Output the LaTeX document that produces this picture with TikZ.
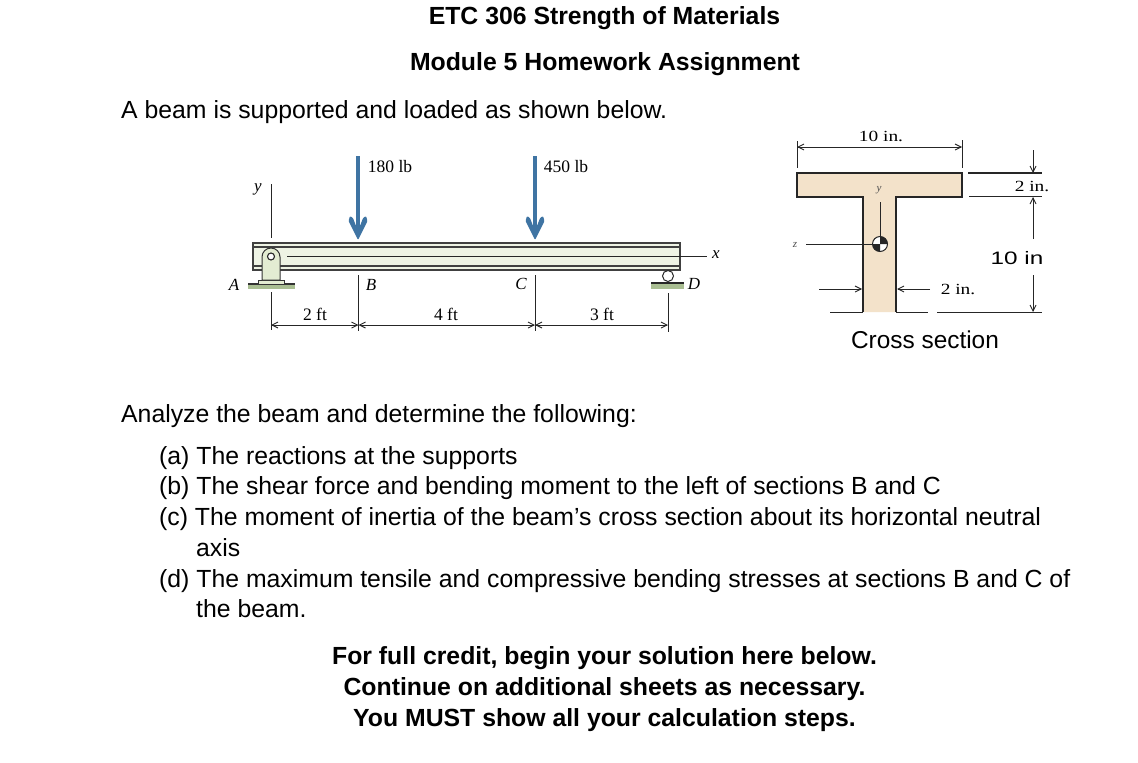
\documentclass[tikz,border=0pt]{standalone}
\usepackage{fontspec}
\setmainfont{Liberation Sans}
\newfontfamily\serifbook{Liberation Serif}
\usetikzlibrary{arrows.meta}
\definecolor{beamfill}{HTML}{EEF3E4}
\definecolor{clevisfill}{HTML}{E3ECD2}
\definecolor{forceblue}{HTML}{3F74A3}
\definecolor{groundgreen}{HTML}{A9BE92}
\definecolor{tee}{HTML}{F3E2CA}
\newcommand{\forcehead}[1]{\fill[forceblue,rounded corners=1pt] (#1) -- ++(-9.5,-19) -- ++(1.5,-5) -- ++(3,2) -- ++(3,8) -- ++(4,0) -- ++(3,-8) -- ++(3,-2) -- ++(1.5,5) -- cycle;}
\tikzset{
  x=1pt,y=-1pt,
  body/.style={inner sep=0pt,anchor=base west,font=\fontsize{24.8}{30}\selectfont},
  boldc/.style={inner sep=0pt,anchor=base,font=\fontsize{24.8}{30}\selectfont\bfseries},
  lbl/.style={inner sep=0pt,anchor=center,font=\serifbook\fontsize{17.5}{18}\selectfont},
  ital/.style={inner sep=0pt,anchor=center,font=\serifbook\itshape\fontsize{17}{18}\selectfont},
  beamline/.style={draw=black!75,line width=1.5pt},
  thinline/.style={draw=black!85,line width=0.9pt},
  dimline/.style={draw=black!85,line width=0.9pt,{Straight Barb[length=6pt,width=6pt]}-{Straight Barb[length=6pt,width=6pt]}},
  onearrow/.style={draw=black!85,line width=0.9pt,-{Straight Barb[length=6pt,width=6pt]}},
  force/.style={draw=forceblue,line width=4pt},
}
\begin{document}
\begin{tikzpicture}
\useasboundingbox (0,0) rectangle (1138,763);
% --- page text
\node[boldc] (t1) at (604.5,24) {ETC 306 Strength of Materials};
\node[boldc] (t2) at (605,70) {Module 5 Homework Assignment};
\node[body] (intro) at (121,118) {A beam is supported and loaded as shown below.};
\node[body] (ana) at (121,422) {Analyze the beam and determine the following:};
\node[body] (qa) at (159,464) {(a) The reactions at the supports};
\node[body] (qb) at (159,494) {(b) The shear force and bending moment to the left of sections B and C};
\node[body] (qc) at (159,525) {(c) The moment of inertia of the beam’s cross section about its horizontal neutral};
\node[body] (qc2) at (196,556) {axis};
\node[body] (qd) at (159,587) {(d) The maximum tensile and compressive bending stresses at sections B and C of};
\node[body] (qd2) at (196,617) {the beam.};
\node[boldc] (f1) at (604.5,664) {For full credit, begin your solution here below.};
\node[boldc] (f2) at (604.5,695) {Continue on additional sheets as necessary.};
\node[boldc] (f3) at (604.5,726) {You MUST show all your calculation steps.};
% --- beam
\node[draw=black!75,line width=1.5pt,fill=beamfill,minimum width=427pt,minimum height=27pt,inner sep=0pt,anchor=north west] (beam) at (252,242) {};
\draw[beamline] (252,247) -- (679,247);
\draw[beamline] (252,266) -- (679,266);
\draw[thinline] (287,256) -- (679,256);
% --- pin support at A
\fill[groundgreen] (248,284) rectangle (295,289);
\draw[line width=1.3pt,black!80] (248,284) -- (295,284);
\draw[line width=1pt,black!80,fill=clevisfill] (258,284) -- (258,280) -- (284,280) -- (284,284);
\draw[line width=1pt,black!80,fill=clevisfill] (262,280) -- (262,257) arc[start angle=180,end angle=360,radius=9] -- (280,280) -- cycle;
\node[circle,draw=black!85,line width=1.1pt,fill=white,minimum size=7pt,inner sep=0pt] (pinA) at (271,256.5) {};
% --- roller support at D
\fill[groundgreen] (651,284) rectangle (684,289);
\node[circle,draw=black!85,line width=1pt,fill=white,minimum size=11pt,inner sep=0pt] (rollD) at (668,276) {};
\draw[line width=1.4pt,black!85] (651,283) -- (684,283);
% --- axes
\coordinate (yaTop) at (271,184);
\coordinate (yaBot) at (271,238);
\draw[thinline] (yaTop) -- (yaBot);
\coordinate (xaEnd) at (707,256);
\draw[thinline] (679,256) -- (xaEnd);
% --- extension lines
\coordinate (extA1) at (271,292); \coordinate (extA2) at (271,330);
\coordinate (extB1) at (358.5,275); \coordinate (extB2) at (358.5,331);
\coordinate (extC1) at (535,275); \coordinate (extC2) at (535,331);
\coordinate (extD1) at (668,293); \coordinate (extD2) at (668,332);
\draw[thinline] (extA1) -- (extA2);
\draw[thinline] (extB1) -- (extB2);
\draw[thinline] (extC1) -- (extC2);
\draw[thinline] (extD1) -- (extD2);
\coordinate (dA) at (271,325); \coordinate (dB) at (358.5,325);
\coordinate (dC) at (535,325); \coordinate (dD) at (668,325);
\draw[dimline] (dA) -- (dB);
\draw[dimline] (dB) -- (dC);
\draw[dimline] (dC) -- (dD);
% --- forces
\coordinate (fB0) at (358,156); \coordinate (fB1) at (358,240); \coordinate (fB2) at (358,228);
\coordinate (fC0) at (535,156); \coordinate (fC1) at (535,240); \coordinate (fC2) at (535,228);
\draw[force] (fB0) -- (fB2);
\draw[force] (fC0) -- (fC2);
\forcehead{fB1}
\forcehead{fC1}
% --- beam labels
\node[lbl] (l180) at (390,167) {180 lb};
\node[lbl] (l450) at (566,167) {450 lb};
\node[lbl] (l2ft) at (315,314) {2 ft};
\node[lbl] (l4ft) at (446,314) {4 ft};
\node[lbl] (l3ft) at (602,314) {3 ft};
\node[ital] (lA) at (234,285) {A};
\node[ital] (lB) at (371,285) {B};
\node[ital] (lC) at (521,284) {C};
\node[ital] (lD) at (694,284) {D};
\node[ital] (ly) at (258,189) {y};
\node[ital] (lx) at (716,255) {x};
% --- T cross section
\fill[tee] (797,173) -- (962,173) -- (962,197) -- (896,197) -- (896,312) -- (863,312) -- (863,197) -- (797,197) -- cycle;
\draw[line width=1.2pt,black!85] (863,312) -- (863,197) -- (797,197) -- (797,173) -- (962,173) -- (962,197) -- (896,197) -- (896,312);
\coordinate (bl1) at (830,312); \coordinate (bl2) at (863,312);
\coordinate (bl2b) at (896,312); \coordinate (bl2c) at (928,312);
\coordinate (bl3) at (937,312); \coordinate (bl4) at (1042,312);
\draw[thinline] (bl1) -- (bl2);
\draw[thinline] (bl2b) -- (bl2c);
\draw[thinline] (bl3) -- (bl4);
% dims of the section
\coordinate (e1a) at (797,141); \coordinate (e1b) at (797,168);
\coordinate (e2a) at (962,140); \coordinate (e2b) at (962,168);
\draw[thinline] (e1a) -- (e1b);
\draw[thinline] (e2a) -- (e2b);
\coordinate (w1) at (797,147); \coordinate (w2) at (962,147);
\draw[dimline] (w1) -- (w2);
\coordinate (r1a) at (968,173); \coordinate (r1b) at (1042,173);
\coordinate (r2a) at (969,196); \coordinate (r2b) at (1042,196);
\draw[line width=1.1pt,black!85] (r1a) -- (r1b);
\draw[thinline] (r2a) -- (r2b);
\coordinate (a1s) at (1033,150); \coordinate (a1e) at (1033,173);
\coordinate (a2s) at (1033,239); \coordinate (a2e) at (1033,197);
\coordinate (a3s) at (1033,275); \coordinate (a3e) at (1033,312);
\draw[onearrow] (a1s) -- (a1e);
\draw[onearrow] (a2s) -- (a2e);
\draw[onearrow] (a3s) -- (a3e);
\coordinate (ws1) at (819,289); \coordinate (we1) at (862,289);
\coordinate (ws2) at (930,289); \coordinate (we2) at (897,289);
\draw[onearrow] (ws1) -- (we1);
\draw[onearrow] (ws2) -- (we2);
% centroid
\node[circle,draw=black!85,line width=1pt,fill=white,minimum size=15pt,inner sep=0pt] (cent) at (880,244) {};
\fill[black!85] (880,244) -- (887.5,244) arc[start angle=0,end angle=-90,radius=7.5] -- cycle;
\fill[black!85] (880,244) -- (872.5,244) arc[start angle=180,end angle=90,radius=7.5] -- cycle;
\coordinate (cy) at (880,202); \coordinate (cz) at (806,244);
\draw[thinline] (cy) -- (cent);
\draw[thinline] (cz) -- (cent);
\node[inner sep=0pt,font=\serifbook\fontsize{15.5}{16}\selectfont] (l10w) at (881,136) {\scalebox{1.25}[1]{10 in.}};
\node[inner sep=0pt,font=\serifbook\fontsize{15.5}{16}\selectfont] (l2h) at (1032,186) {\scalebox{1.25}[1]{2 in.}};
\node[inner sep=0pt,font=\serifbook\fontsize{15.5}{16}\selectfont] (l2w) at (958,289) {\scalebox{1.25}[1]{2 in.}};
\node[inner sep=0pt,font=\fontsize{18}{18}\selectfont] (l10h) at (1017,258) {\scalebox{1.35}[1]{10 in}};
\node[ital,font=\serifbook\itshape\fontsize{11}{12}\selectfont,black!70] (lz) at (795,245) {z};
\node[ital,font=\serifbook\itshape\fontsize{11}{12}\selectfont,black!70] (lyy) at (879,190) {y};
\node[inner sep=0pt,font=\fontsize{24.4}{26}\selectfont] (lcs) at (925,340) {Cross section};
\end{tikzpicture}
\end{document}
